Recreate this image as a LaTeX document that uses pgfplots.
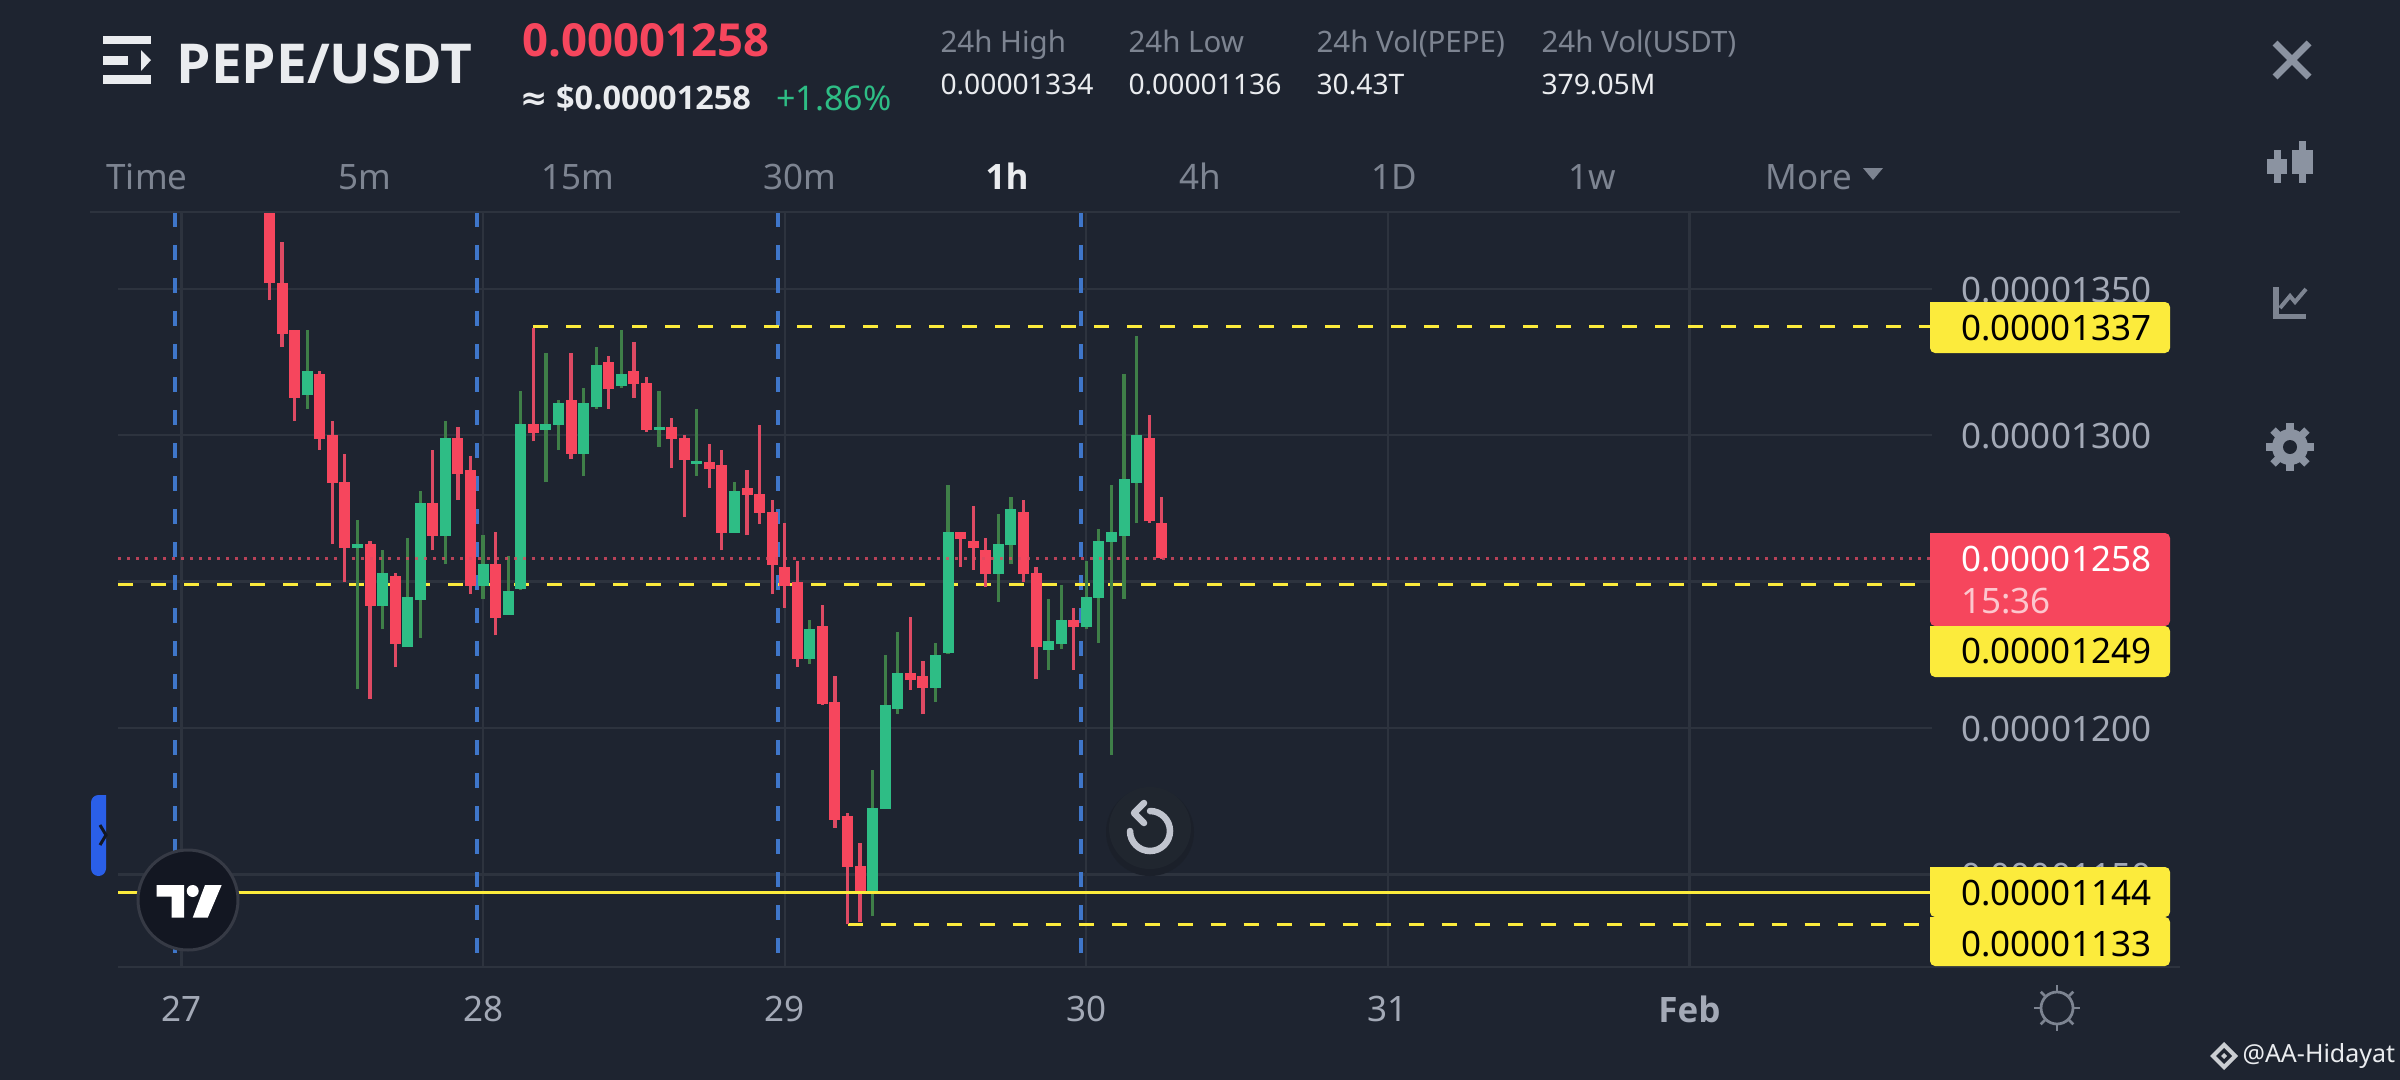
\documentclass[border=0pt]{standalone}
\usepackage{fontspec}
\setmainfont{Noto Sans}
\newfontfamily\hb{Open Sans}
\newfontfamily\djv{DejaVu Sans}
\usepackage{pgfplots}
\usepackage{pgfplotstable}
\pgfplotsset{compat=1.18}
\definecolor{bg}{HTML}{1E2430}
\definecolor{gridc}{HTML}{2D333E}
\definecolor{upc}{HTML}{2EBD85}
\definecolor{dnc}{HTML}{F6465D}
\definecolor{upw}{HTML}{3F7F48}
\definecolor{dnw}{HTML}{DE4A63}
\definecolor{yel}{HTML}{FCEB3C}
\definecolor{blu}{HTML}{3F76C9}
\definecolor{tick}{HTML}{A3A9B6}
\definecolor{hd}{HTML}{7D8491}
\definecolor{wh}{HTML}{EAECEF}
\definecolor{icon}{HTML}{8B93A1}
\definecolor{badge}{HTML}{131722}
\definecolor{badgeline}{HTML}{363A45}
\definecolor{tabblue}{HTML}{2A5FE8}
\definecolor{btn}{HTML}{20262F}
\definecolor{btnrim}{HTML}{1B202A}
\definecolor{btnicon}{HTML}{C0C4CE}
% prices in units of 0.00000001 USDT; h = hours after the start of day 27
\pgfplotstableread{
h hi lo top bot
7 1388 1346.1 1385 1351.8
8 1366.0 1330.1 1351.8 1334.7
9 1335.8 1304.9 1335.8 1312.7
11 1321.8 1294.9 1320.8 1298.7
12 1304.9 1263.0 1299.9 1283.6
13 1293.7 1249.9 1284.0 1261.4
15 1263.8 1210.0 1262.7 1241.6
17 1253.0 1220.7 1251.9 1228.7
20 1294.9 1260.7 1276.8 1265.6
22 1302.8 1277.8 1299.0 1286.7
23 1292.8 1245.7 1288.0 1248.5
25 1266.9 1231.6 1256.0 1237.5
28 1336.7 1297.9 1303.7 1300.7
31 1327.9 1291.7 1311.9 1293.5
34 1327.0 1308.9 1324.9 1315.7
36 1331.8 1312.8 1321.8 1317.4
37 1319.7 1301.0 1317.7 1301.7
39 1305.8 1288.7 1302.7 1298.6
40 1300.0 1272.0 1299.0 1291.5
42 1296.9 1281.9 1290.7 1288.4
43 1294.9 1260.7 1289.8 1266.7
45 1288.0 1265.9 1281.9 1279.5
46 1303.6 1269.8 1279.9 1273.4
47 1277.8 1245.7 1273.7 1255.6
48 1270.0 1241.1 1255.0 1248.5
49 1257.0 1220.8 1249.8 1223.6
51 1242.0 1207.9 1234.8 1208.2
52 1217.7 1165.9 1208.9 1168.6
53 1171.0 1133.0 1170.0 1152.6
54 1160.7 1133.8 1152.9 1143.9
58 1237.9 1213.0 1218.8 1216.4
59 1222.9 1204.8 1217.7 1213.6
62 1266.9 1255.0 1266.9 1264.5
63 1275.8 1253.9 1263.8 1261.4
64 1264.8 1248.0 1260.7 1252.6
67 1277.8 1249.8 1273.7 1252.6
68 1254.9 1216.7 1252.9 1227.6
71 1240.9 1219.8 1236.9 1234.5
77 1306.8 1270.0 1299.0 1270.6
78 1278.8 1257.6 1270.0 1257.9
}\redcandles
\pgfplotstableread{
h hi lo top bot
10 1335.8 1308.9 1321.8 1313.6
14 1271.0 1213.2 1262.7 1261.4
16 1260.7 1233.8 1252.9 1241.6
18 1264.8 1227.7 1244.7 1227.7
19 1280.9 1230.7 1276.8 1243.7
21 1304.9 1256.0 1299.0 1265.6
24 1265.9 1244.0 1256.0 1248.5
26 1258.7 1238.6 1246.7 1238.6
27 1315.0 1247.1 1303.7 1247.4
29 1327.9 1284.0 1303.7 1301.7
30 1311.9 1294.9 1310.9 1303.4
32 1316.0 1286.0 1310.9 1293.5
33 1330.0 1309.1 1323.9 1309.5
35 1335.8 1316.1 1320.8 1316.7
38 1315.0 1296.0 1302.7 1301.7
41 1308.9 1286.0 1291.1 1290.1
44 1284.0 1266.7 1280.9 1266.7
50 1236.9 1221.9 1233.8 1223.6
55 1185.7 1135.8 1172.7 1143.9
56 1224.9 1172.3 1207.9 1172.3
57 1232.8 1204.8 1218.8 1206.5
60 1229.0 1208.9 1224.9 1213.6
61 1282.9 1225.2 1266.9 1225.6
65 1273.0 1243.0 1262.8 1252.6
66 1278.8 1256.0 1274.7 1262.4
69 1244.0 1219.8 1229.7 1226.6
70 1248.8 1227.0 1236.9 1228.7
72 1257.0 1233.8 1244.7 1234.5
73 1267.9 1229.0 1263.8 1244.4
74 1282.9 1190.8 1266.9 1263.5
75 1320.8 1244.0 1285.0 1265.5
76 1333.8 1270.0 1300.0 1283.6
}\greencandles
\newcommand{\wicks}[2]{\addplot[draw=none,mark=none,forget plot,error bars/.cd,y dir=plus,y explicit,error mark=none,error bar style={line width=1.3pt,color=#2}] table[x=h,y=lo,y error plus expr=\thisrow{hi}-\thisrow{lo}] {#1};}
\newcommand{\bodies}[2]{\addplot[draw=none,mark=none,forget plot,error bars/.cd,y dir=plus,y explicit,error mark=none,error bar style={line width=4.4pt,color=#2}] table[x=h,y=bot,y error plus expr=\thisrow{top}-\thisrow{bot}] {#1};}
\newcommand{\pbox}[3]{\fill[#3,rounded corners=2pt] (1930,#1) -- (2170,#1) -- (2170,#2) -- (1930,#2) [sharp corners] -- cycle;}
\begin{document}
\begin{tikzpicture}[x=0.4pt,y=-0.4pt]
\fill[bg] (0,0) rectangle (2400,1080);
\coordinate (O) at (118,967);
\begin{axis}[
  at={(O)},anchor=south west,scale only axis,
  width=725.6pt,height=302pt,
  xmin=-5.053,xmax=139.3,ymin=1118.4,ymax=1376.2,
  axis line style={draw=none},
  xtick={0,24,48,72,96,120},
  xticklabels={27,28,29,30,31,{\hb\bfseries Feb}},
  ytick={1150,1200,1250,1300,1350},
  yticklabels={0.00001150,0.00001200,{},0.00001300,0.00001350},
  yticklabel pos=right,
  major tick length=0pt,
  grid=major,
  major grid style={color=gridc,line width=0.9pt},
  xticklabel style={font=\fontsize{14}{16}\selectfont,text=tick,anchor=center,inner sep=0pt,yshift=-16.8pt},
  yticklabel style={font=\fontsize{14}{16}\selectfont,text=tick,anchor=west,inner sep=0pt,xshift=11.6pt,yshift=-0.5pt},
]
% vertical session lines
\addplot[blu,line width=1.6pt,dash pattern=on 6pt off 7.2pt,forget plot] coordinates {(-0.52,1376.2)(-0.52,1118.4)};
\addplot[blu,line width=1.6pt,dash pattern=on 6pt off 7.2pt,forget plot] coordinates {(23.54,1376.2)(23.54,1118.4)};
\addplot[blu,line width=1.6pt,dash pattern=on 6pt off 7.2pt,forget plot] coordinates {(47.5,1376.2)(47.5,1118.4)};
\addplot[blu,line width=1.6pt,dash pattern=on 6pt off 7.2pt,forget plot] coordinates {(71.54,1376.2)(71.54,1118.4)};
% dashed levels
\addplot[yel,line width=1.2pt,dash pattern=on 6pt off 7.2pt,forget plot] coordinates {(28,1337)(139.3,1337)};
\addplot[yel,line width=1.2pt,dash pattern=on 6pt off 7.2pt,forget plot] coordinates {(-5.053,1249)(139.3,1249)};
\addplot[yel,line width=1.2pt,dash pattern=on 6pt off 7.2pt,forget plot] coordinates {(53,1133)(139.3,1133)};
% candles
\wicks{\redcandles}{dnw}
\wicks{\greencandles}{upw}
\bodies{\redcandles}{dnc}
\bodies{\greencandles}{upc}
% last price and support
\addplot[color=dnw,opacity=0.8,line width=1.2pt,dash pattern=on 1.2pt off 2.4pt,forget plot] coordinates {(-5.053,1258)(139.3,1258)};
\addplot[yel,line width=1.2pt,forget plot] coordinates {(-5.053,1144)(139.3,1144)};
\end{axis}
% frame lines
\draw[gridc,line width=0.9pt] (90,212) -- (2180,212);
\draw[gridc,line width=0.9pt] (118,967) -- (2180,967);
% price boxes
\pbox{302}{353}{yel}
\pbox{533}{626}{dnc}
\pbox{626}{677}{yel}
\pbox{867}{917}{yel}
\pbox{917}{966}{yel}
\tikzset{pl/.style={anchor=west,inner sep=0pt,font=\fontsize{14}{16}\selectfont}}
\node[pl,text=black] at (1961,328.5) {0.00001337};
\node[pl,text=white] at (1961,559.5) {0.00001258};
\node[pl,text=white,text opacity=0.7] at (1961,601.5) {15:36};
\node[pl,text=black] at (1961,651.5) {0.00001249};
\node[pl,text=black] at (1961,893.5) {0.00001144};
\node[pl,text=black] at (1961,944) {0.00001133};
% header
\fill[wh] (103,36) rectangle (151,44);
\fill[wh] (103,56) rectangle (128,65);
\fill[wh] (103,75) rectangle (151,84);
\fill[wh] (141,50) -- (151,60) -- (141,71) -- cycle;
\node[anchor=west,inner sep=0pt,text=wh,font=\fontsize{22}{26}\selectfont\hb\bfseries] at (176,64) {PEPE/USDT};
\node[anchor=west,inner sep=0pt,text=dnc,font=\fontsize{18.2}{22}\selectfont\hb\bfseries] at (522,40) {0.00001258};
\node[anchor=west,inner sep=0pt,text=wh,font=\fontsize{13}{16}\selectfont\hb\bfseries] at (520,98) {{\djv ≈} \$0.00001258};
\node[anchor=west,inner sep=0pt,text=upc,font=\fontsize{13.6}{16}\selectfont] at (776,98) {+1.86\%};
\tikzset{hl/.style={anchor=base west,inner sep=0pt,text=hd,font=\fontsize{11.8}{14}\selectfont},
         hv/.style={anchor=west,inner sep=0pt,text=wh,font=\fontsize{11.3}{14}\selectfont},
         tb/.style={anchor=base,inner sep=0pt,text=hd,font=\fontsize{14}{16}\selectfont}}
\node[hl] at (940,52) {24h High};
\node[hv] at (940,84) {0.00001334};
\node[hl] at (1128,52) {24h Low};
\node[hv] at (1128,84) {0.00001136};
\node[hl] at (1316,52) {24h Vol(PEPE)};
\node[hv] at (1316,84) {30.43T};
\node[hl] at (1541,52) {24h Vol(USDT)};
\node[hv] at (1541,84) {379.05M};
\node[tb] at (147,189) {Time};
\node[tb] at (365,189) {5m};
\node[tb] at (578,189) {15m};
\node[tb] at (800,189) {30m};
\node[tb,text=wh,font=\fontsize{14}{16}\selectfont\hb\bfseries] at (1007,189) {1h};
\node[tb] at (1200,189) {4h};
\node[tb] at (1394,189) {1D};
\node[tb] at (1592,189) {1w};
\node[tb] at (1809,189) {More};
\fill[hd] (1863,168) -- (1883,168) -- (1873,180) -- cycle;
% right icons
\draw[icon,line width=2.8pt] (2275,43) -- (2309,77);
\draw[icon,line width=2.8pt] (2309,43) -- (2275,77);
\fill[icon] (2267,159) rectangle (2287,174);
\fill[icon] (2274,150) rectangle (2281,183);
\fill[icon] (2292,150) rectangle (2313,174);
\fill[icon] (2299,141) rectangle (2306,183);
\fill[hd] (2273,287) rectangle (2279,319);
\fill[hd] (2273,314) rectangle (2306,319);
\draw[hd,line width=1.6pt] (2280,308) -- (2290,296) -- (2295,302) -- (2306,289);
\fill[icon] (2290,447) circle[radius=18];
\foreach \a in {0,45,...,315} {\draw[icon,line width=3pt] (2290,447) ++(\a:14) -- ++(\a:10);}
\fill[bg] (2290,447) circle[radius=7];
% sun
\draw[hd,line width=1.1pt] (2057,1008) circle[radius=16];
\foreach \a in {0,45,...,315} {\draw[hd,line width=1.1pt] (2057,1008) ++(\a:17) -- ++(\a:6);}
% watermark
\fill[wh!85!bg] (2224,1042) -- (2238,1056) -- (2224,1070) -- (2210,1056) -- cycle;
\fill[bg] (2224,1048) -- (2232,1056) -- (2224,1064) -- (2216,1056) -- cycle;
\fill[wh!85!bg] (2224,1053) -- (2227,1056) -- (2224,1059) -- (2221,1056) -- cycle;
\node[anchor=west,inner sep=0pt,text=wh,font=\fontsize{10}{12}\selectfont] at (2242,1056) {@AA-Hidayat};
% blue tab
\fill[tabblue,rounded corners=3pt] (106,795) -- (91,795) -- (91,876) -- (106,876) [sharp corners] -- cycle;
\draw[badge,line width=1.2pt] (100,825) -- (106,835) -- (100,845);
% tradingview badge
\fill[badge] (188,900) circle[radius=50];
\draw[badgeline,line width=1.2pt] (188,900) circle[radius=50];
\fill[white] (156.7,885) -- (184,885) -- (184,917.7) -- (171.7,917.7) -- (171.7,896.7) -- (156.7,896.7) -- cycle;
\fill[white] (192.7,891) circle[radius=6];
\fill[white] (205,885) -- (221.7,885) -- (207.7,917.7) -- (192.7,917.7) -- cycle;
% reset button
\fill[btnrim] (1150,832) circle[radius=44];
\fill[btn] (1150,828) circle[radius=41];
\draw[btnicon,line width=2.6pt,line cap=round] (1150,811) arc[start angle=-90,end angle=180,radius=20];
\draw[btnicon,line width=2.6pt,line cap=round,line join=round] (1144,803) -- (1134,813) -- (1144,823);
\end{tikzpicture}
\end{document}
